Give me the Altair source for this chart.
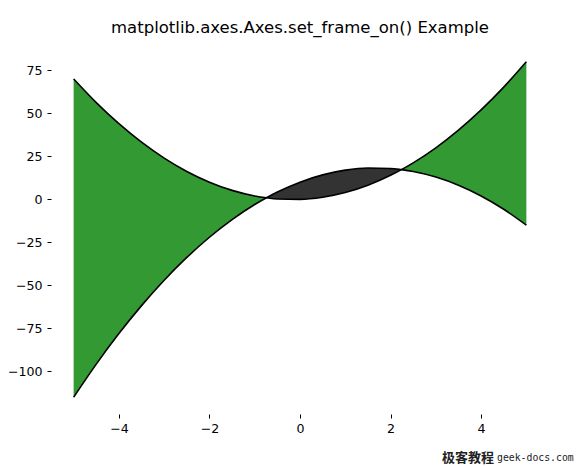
import altair as alt
import pandas as pd

# Values
xs = [-5, -4.5, -4, -3.5, -3, -2.5, -2, -1.5, -1, -0.74, -0.5, 0, 0.5, 1, 1.5, 2, 2.24, 2.5, 3, 3.5, 4, 4.5, 5]
upper = [70, 56.25, 44, 33.25, 24, 16.25, 10, 5.25, 2, 0.93, 0.25, 0, 1.25, 4, 8.25, 14, 17.3, 21.25, 30, 40.25, 52, 65.25, 80]
lower = [-115, -95.75, -78, -61.75, -47, -33.75, -22, -11.75, -3, 0.93, 4.25, 10, 14.25, 17, 18.25, 18, 17.3, 16.25, 13, 8.25, 2, -5.75, -15]
cross_left = -0.74
cross_right = 2.24

segment_names = ["left", "mid", "right"]
segment_colors = ["#339933", "#333333", "#339933"]
x_ticks = [-4, -2, 0, 2, 4]
y_ticks = [-100, -75, -50, -25, 0, 25, 50, 75]
title_text = "matplotlib.axes.Axes.set_frame_on() Example"
wm_cjk = "极客教程"
wm_latin = "geek-docs.com"

rows = []
for x, a, b in zip(xs, upper, lower):
    if x <= cross_left:
        rows.append({"x": x, "y1": a, "y2": b, "seg": "left"})
    if cross_left <= x <= cross_right:
        rows.append({"x": x, "y1": a, "y2": b, "seg": "mid"})
    if x >= cross_right:
        rows.append({"x": x, "y1": a, "y2": b, "seg": "right"})
fill_df = pd.DataFrame(rows)
line_df = pd.DataFrame({"x": xs, "y1": upper, "y2": lower})

xscale = alt.Scale(domain=[-5.5, 5.5], nice=False, zero=False)
yscale = alt.Scale(domain=[-124.75, 89.75], nice=False, zero=False)

axis_common = dict(domain=False, grid=False, ticks=True, tickColor="black", tickSize=4,
                   labelColor="black", labelFont="DejaVu Sans", labelFontSize=12.6,
                   title=None)

xenc = alt.X("x:Q", scale=xscale, axis=alt.Axis(values=x_ticks, labelPadding=4, **axis_common))

area = alt.Chart(fill_df).mark_area(interpolate="monotone", opacity=1).encode(
    x=xenc,
    y=alt.Y("y1:Q", scale=yscale, axis=alt.Axis(values=y_ticks, labelPadding=5, **axis_common)),
    y2="y2:Q",
    color=alt.Color("seg:N", scale=alt.Scale(domain=segment_names, range=segment_colors), legend=None),
    detail="seg:N",
)

line1 = alt.Chart(line_df).mark_line(interpolate="monotone", color="black", strokeWidth=1.6).encode(
    x=alt.X("x:Q", scale=xscale), y=alt.Y("y1:Q", scale=yscale)
)
line2 = alt.Chart(line_df).mark_line(interpolate="monotone", color="black", strokeWidth=1.6).encode(
    x=alt.X("x:Q", scale=xscale), y=alt.Y("y2:Q", scale=yscale)
)

wm1 = alt.Chart(pd.DataFrame({"t": [wm_cjk]})).mark_text(
    align="right", baseline="middle", font="Noto Sans CJK SC", fontSize=13, fontWeight="bold", color="#222222"
).encode(text="t:N", x=alt.value(443), y=alt.value(413))
wm2 = alt.Chart(pd.DataFrame({"t": [wm_latin]})).mark_text(
    align="left", baseline="middle", font="DejaVu Sans Mono", fontSize=9.8, color="#222222"
).encode(text="t:N", x=alt.value(446), y=alt.value(413))

chart = alt.layer(area, line1, line2, wm1, wm2).properties(
    width=498,
    height=369,
    title=alt.TitleParams(title_text, font="DejaVu Sans", fontSize=16.5, fontWeight="normal",
                          color="black", offset=9, anchor="middle"),
    autosize=alt.AutoSizeParams(type="none"),
    padding={"left": 43, "top": 37, "right": 27, "bottom": 52},
).configure_view(stroke=None)

chart.save("out.html", embed_options={"renderer": "svg", "actions": False})
